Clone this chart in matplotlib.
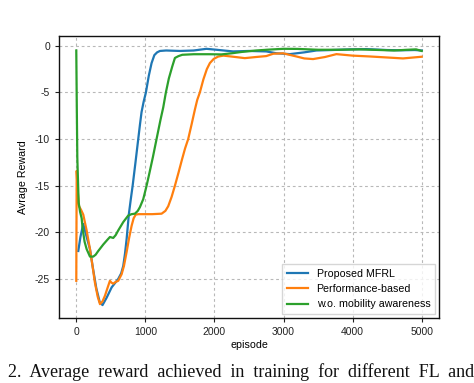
import matplotlib
matplotlib.use('Agg')
import matplotlib.pyplot as plt

plt.rcParams['font.family'] = ['Liberation Sans', 'DejaVu Sans']
plt.rcParams['axes.unicode_minus'] = False

# Proposed MFRL (blue)
mfrl_ep = [29, 60, 101, 150, 198, 240, 290, 340, 380, 440, 512, 607, 650, 680,
           705, 729, 762, 790, 816, 857, 897, 921, 945, 975, 1008, 1050, 1090,
           1130, 1170, 1211, 1300, 1500, 1700, 1885, 2000, 2270, 2500, 2750,
           2900, 3090, 3300, 3476, 3700, 3958, 4200, 4500, 4700, 4900, 5000]
mfrl_rw = [-22.0, -20.5, -19.1, -20.5, -21.8, -23.8, -26.0, -27.5, -27.8, -27.0,
           -25.9, -25.0, -24.4, -23.6, -22.3, -20.7, -18.0, -16.4, -15.0, -12.5,
           -10.0, -8.5, -7.1, -6.0, -5.0, -3.2, -1.85, -1.0, -0.7, -0.55, -0.5,
           -0.55, -0.5, -0.32, -0.4, -0.6, -0.55, -0.6, -0.8, -0.89, -0.7, -0.5,
           -0.45, -0.38, -0.35, -0.45, -0.48, -0.45, -0.5]

# Performance-based (orange)
perf_ep = [0, 3, 6, 20, 40, 70, 101, 150, 198, 235, 270, 310, 343, 380, 415,
           455, 487, 510, 535, 575, 607, 656, 690, 729, 765, 801, 830, 860, 900,
           1000, 1100, 1235, 1290, 1331, 1380, 1428, 1480, 1530, 1575, 1620,
           1670, 1717, 1751, 1789, 1840, 1890, 1934, 1990, 2054, 2130, 2250,
           2440, 2600, 2750, 2850, 2994, 3187, 3300, 3428, 3600, 3766, 4000,
           4248, 4500, 4730, 5000]
perf_rw = [-25.2, -19.0, -13.4, -15.5, -17.2, -17.6, -18.1, -19.8, -21.8, -23.6,
           -25.4, -26.9, -27.7, -27.4, -26.8, -25.9, -25.2, -25.4, -25.5, -25.3,
           -25.2, -24.5, -23.6, -22.1, -20.6, -19.3, -18.5, -18.1, -18.05, -18.05,
           -18.05, -18.0, -17.7, -17.2, -16.2, -15.0, -13.6, -12.2, -11.0, -10.0,
           -8.4, -6.84, -5.8, -5.0, -3.6, -2.5, -1.85, -1.4, -1.15, -1.05, -1.15,
           -1.32, -1.2, -1.1, -0.85, -0.8, -1.14, -1.35, -1.42, -1.2, -0.89,
           -1.05, -1.14, -1.25, -1.35, -1.17]

# w.o. mobility awareness (green)
womob_ep = [0, 8, 15, 25, 34, 55, 78, 92, 120, 150, 198, 246, 280, 318, 391,
            450, 487, 535, 570, 607, 680, 752, 800, 849, 890, 921, 969, 1018,
            1060, 1110, 1162, 1220, 1259, 1297, 1340, 1390, 1428, 1480, 1535,
            1700, 1920, 2100, 2250, 2400, 2600, 2800, 3000, 3200, 3500, 3800,
            4100, 4400, 4600, 4800, 4920, 5000]
womob_rw = [-0.5, -7.0, -12.0, -14.5, -16.8, -17.8, -18.5, -19.6, -21.0, -21.8,
            -22.6, -22.6, -22.4, -22.0, -21.3, -20.8, -20.5, -20.6, -20.3, -19.8,
            -18.9, -18.2, -18.05, -18.0, -17.7, -17.3, -16.45, -15.0, -13.6,
            -11.9, -10.0, -7.9, -6.6, -5.0, -3.5, -2.2, -1.3, -1.1, -0.96, -0.9,
            -0.9, -0.92, -0.8, -0.65, -0.5, -0.4, -0.32, -0.33, -0.42, -0.42,
            -0.38, -0.45, -0.5, -0.42, -0.38, -0.55]

fig = plt.figure(figsize=(4.74, 3.83), dpi=100)
ax = fig.add_axes([0.1245, 0.170, 0.8015, 0.736])

ax.plot(mfrl_ep, mfrl_rw, color='#1f77b4', lw=1.6, label='Proposed MFRL')
ax.plot(perf_ep, perf_rw, color='#ff7f0e', lw=1.6, label='Performance-based')
ax.plot(womob_ep, womob_rw, color='#2ca02c', lw=1.6, label='w.o. mobility awareness')

ax.set_xticks([0, 1000, 2000, 3000, 4000, 5000])
ax.set_yticks([0, -5, -10, -15, -20, -25])
ax.tick_params(labelsize=7.5, length=3, width=0.8, colors='#222222')
ax.grid(color='#b8b8b8', linestyle=(0, (2.5, 2.5)), linewidth=0.8)
for s in ax.spines.values():
    s.set_linewidth(1.0)
    s.set_color('#111111')

ax.set_xlabel('episode', fontsize=7.7, labelpad=2)
ax.set_ylabel('Avrage Reward', fontsize=7.7, labelpad=5)
ax.legend(loc='lower right', fontsize=7.7, frameon=True, fancybox=False,
          edgecolor='#cccccc', borderaxespad=0.4, handlelength=2.0)

# caption under the chart (only its first line shows)
fig.text(0.017, 1 - 377 / 383, '2.  Average  reward  achieved  in  training  for  different  FL  and',
         family=['Liberation Serif'], fontsize=13, va='baseline', ha='left', color='#111111')

fig.savefig('out.png', dpi=100)
